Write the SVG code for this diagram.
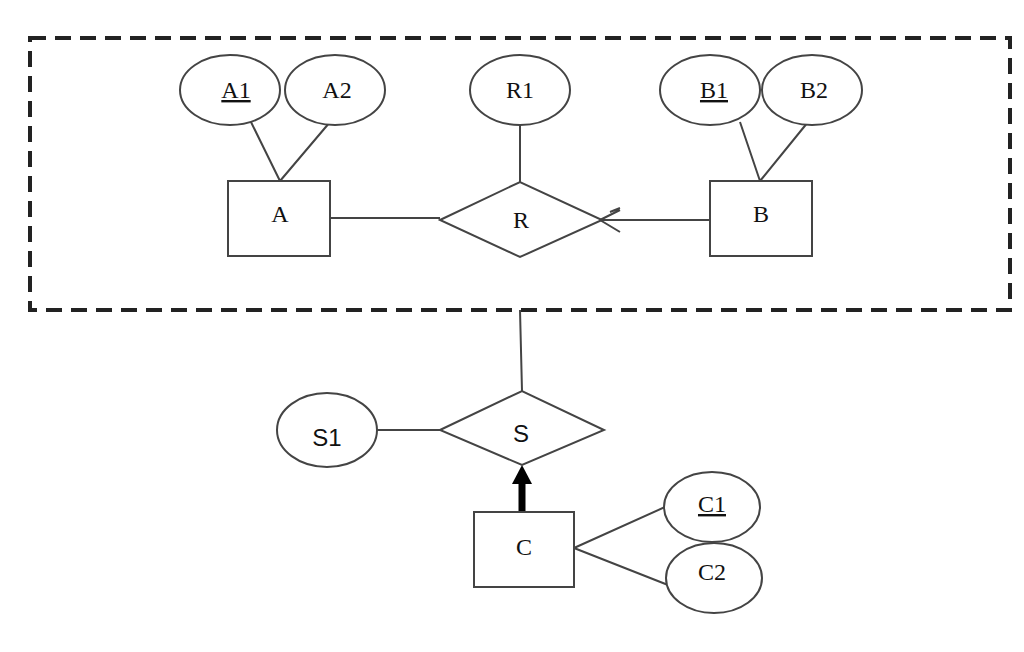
<svg xmlns="http://www.w3.org/2000/svg" width="1024" height="652" viewBox="0 0 1024 652">
<style>
.s{fill:#fff;stroke:#444;stroke-width:2}
.l{stroke:#444;stroke-width:2;fill:none}
text{font-family:"Liberation Serif",serif;font-size:24px;text-anchor:middle;fill:#111}
</style>
<rect width="1024" height="652" fill="#fff"/>
<rect x="30" y="38" width="980" height="272" fill="none" stroke="#222" stroke-width="4" stroke-dasharray="16,9"/>
<g id="connectors">
<path class="l" d="M250 120L280 181M330 122L280 181M520 125V182M330 218H440M710 220H602M610 212L620 208M600 220L620 210M600 220L620 232M740 122L760 181M808 122L760 181M520 310L522 391M377 430H440M574 548L665 507M574 548L668 585"/>
<path d="M522 512V478" stroke="#000" stroke-width="7"/>
<path d="M522 465L512 484L532 484Z" fill="#000"/>
</g>
<g id="A1"><ellipse class="s" cx="230" cy="90" rx="50" ry="35"/><text x="236" y="98" text-decoration="underline">A1</text></g>
<g id="A2"><ellipse class="s" cx="335" cy="90" rx="50" ry="35"/><text x="337" y="98">A2</text></g>
<g id="R1"><ellipse class="s" cx="520" cy="90" rx="50" ry="35"/><text x="520" y="98">R1</text></g>
<g id="B1"><ellipse class="s" cx="710" cy="90" rx="50" ry="35"/><text x="714" y="98" text-decoration="underline">B1</text></g>
<g id="B2"><ellipse class="s" cx="812" cy="90" rx="50" ry="35"/><text x="814" y="98">B2</text></g>
<g id="A"><rect class="s" x="228" y="181" width="102" height="75"/><text x="280" y="222">A</text></g>
<g id="B"><rect class="s" x="710" y="181" width="102" height="75"/><text x="761" y="222">B</text></g>
<g id="R"><path class="s" d="M440 220L520 182L602 220L520 257Z"/><text x="521" y="228">R</text></g>
<g id="S"><path class="s" d="M440 430L522 391L604 430L522 465Z"/><text x="521" y="442" style="font-family:'Liberation Sans',sans-serif">S</text></g>
<g id="S1"><ellipse class="s" cx="327" cy="430" rx="50" ry="37"/><text x="327" y="446" style="font-family:'Liberation Sans',sans-serif">S1</text></g>
<g id="C"><rect class="s" x="474" y="512" width="100" height="75"/><text x="524" y="555">C</text></g>
<g id="C1"><ellipse class="s" cx="712" cy="507" rx="48" ry="35"/><text x="712" y="512" text-decoration="underline">C1</text></g>
<g id="C2"><ellipse class="s" cx="714" cy="578" rx="48" ry="35"/><text x="712" y="580">C2</text></g>
</svg>
